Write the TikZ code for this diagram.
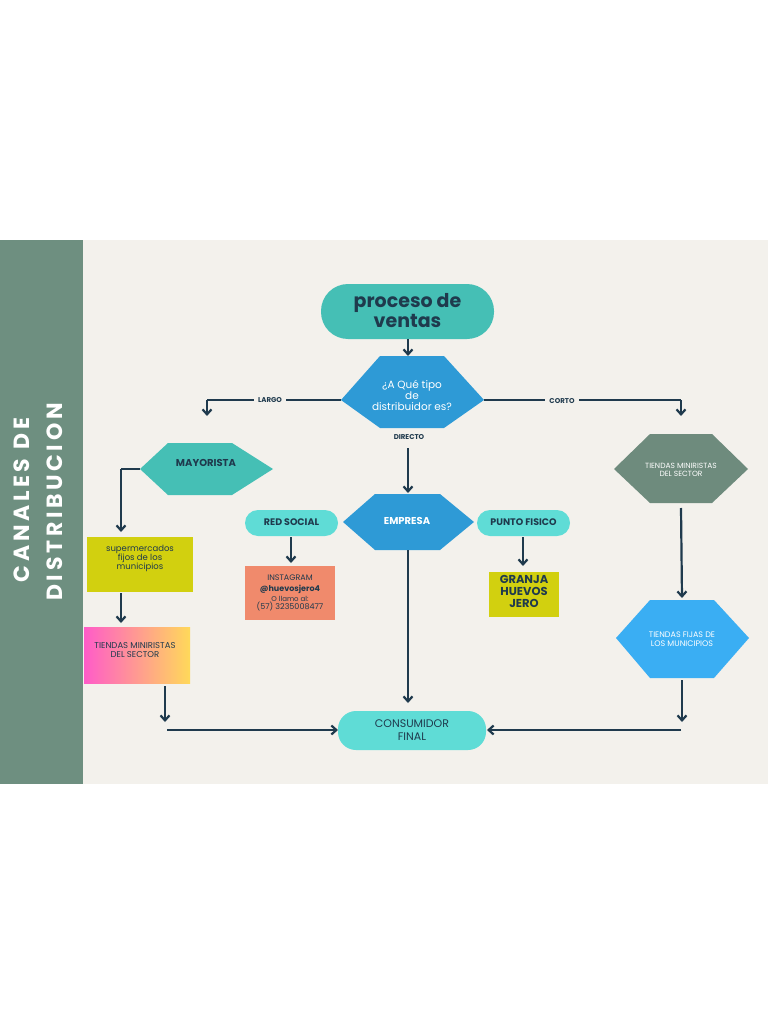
\documentclass[tikz,border=0pt]{standalone}
\usepackage{fontspec}
\setmainfont{Poppins}
\usetikzlibrary{arrows.meta}
\definecolor{panel}{HTML}{F3F1EC}
\definecolor{strip}{HTML}{6E8F80}
\definecolor{ink}{HTML}{1F3A4D}
\definecolor{tealA}{HTML}{45BFB5}
\definecolor{tealB}{HTML}{5FDCD6}
\definecolor{blueA}{HTML}{2E9AD6}
\definecolor{blueB}{HTML}{3AAEF3}
\definecolor{grayg}{HTML}{6E8B7D}
\definecolor{olive}{HTML}{D2D00F}
\definecolor{salmon}{HTML}{F08A6C}
\definecolor{pinkg}{HTML}{FF5CC8}
\definecolor{yelg}{HTML}{FFD95A}
\tikzset{
 conn/.style={draw=ink,line width=2.2pt,-{Straight Barb[length=5pt,width=9pt]}},
 seg/.style={draw=ink,line width=2.2pt},
 txt/.style={text=ink,align=center,inner sep=0pt},
 lbl/.style={text=ink,font=\fontsize{7}{8}\selectfont\bfseries,fill=panel,inner xsep=4pt,inner ysep=1pt},
 pill/.style={rounded corners=13pt,inner sep=0pt}
}
\begin{document}
\begin{tikzpicture}[x=1pt,y=-1pt]
\useasboundingbox (0,0) rectangle (768,1024);
\fill[white] (0,0) rectangle (768,1024);
\fill[panel] (0,240) rectangle (768,784);
\fill[strip] (0,240) rectangle (83,784);
\node[rotate=90,text=white,font=\fontsize{22}{24}\selectfont\bfseries] (t1) at (22,500) {C\,A\,N\,A\,L\,E\,S\ \ D\,E};
\node[rotate=90,text=white,font=\fontsize{22}{24}\selectfont\bfseries] (t2) at (55,502) {D\,I\,S\,T\,R\,I\,B\,U\,C\,I\,O\,N};
% proceso de ventas
\fill[tealA,rounded corners=27pt] (321,284) rectangle (494,339);
\node[txt,font=\fontsize{19}{20}\selectfont\bfseries] (pv) at (407.5,311) {proceso de\\ventas};
% question hexagon
\fill[blueA] (341,400) -- (380,356) -- (444,356) -- (484,400) -- (444,428) -- (380,428) -- cycle;
\node[txt,text=white,font=\fontsize{10.5}{11}\selectfont] (q) at (412,395) {¿A Qué tipo\\de\\distribuidor es?};
\coordinate (qt) at (408,356); \coordinate (ql) at (341,400); \coordinate (qr) at (484,400);
\coordinate (pvb) at (408,339);
\draw[conn] (pvb) -- (qt);
\coordinate (lc) at (207,400); \coordinate (la) at (207,416);
\coordinate (rc) at (681,400); \coordinate (ra) at (681,416);
\draw[seg] (ql) -- (lc); \draw[conn] (lc) -- (la);
\draw[seg] (qr) -- (rc); \draw[conn] (rc) -- (ra);
\node[lbl] (largo) at (270,400) {LARGO};
\node[lbl] (corto) at (562,401) {CORTO};
\node[lbl] (dir) at (409,437) {DIRECTO};
% MAYORISTA
\fill[tealA] (140,469) -- (168,443) -- (232,443) -- (273,469) -- (232,495) -- (168,495) -- cycle;
\node[txt,font=\fontsize{10}{11}\selectfont\bfseries] (may) at (206,463) {MAYORISTA};
\coordinate (mayl) at (140,469); \coordinate (mc) at (121,469); \coordinate (ma) at (121,532);
\draw[seg] (mayl) -- (mc); \draw[conn] (mc) -- (ma);
% supermercados
\fill[olive] (87,537) rectangle (193,592);
\node[txt,font=\fontsize{8.5}{9}\selectfont] (sup) at (140,558) {supermercados\\fijos de los\\municipios};
\coordinate (supb) at (121,593); \coordinate (tmt) at (121,623);
\draw[conn] (supb) -- (tmt);
% tiendas gradient
\shade[left color=pinkg,right color=yelg] (84,627) rectangle (190,683);
\node[txt,font=\fontsize{8.5}{9}\selectfont] (tm) at (135,650) {TIENDAS MINIRISTAS\\DEL SECTOR};
\coordinate (tmb) at (165,686); \coordinate (tma) at (165,722);
\draw[conn] (tmb) -- (tma);
\coordinate (bl) at (167,730);
% EMPRESA
\fill[blueA] (343,522) -- (375,494) -- (440,494) -- (474,522) -- (440,550) -- (375,550) -- cycle;
\node[txt,text=white,font=\fontsize{10}{11}\selectfont\bfseries] (emp) at (407,521) {EMPRESA};
\draw[conn] (408,448) -- (408,493);
% RED SOCIAL
\fill[tealB,pill] (245,510) rectangle (338,536);
\node[txt,font=\fontsize{9.5}{10}\selectfont\bfseries] (rs) at (291.5,522) {RED SOCIAL};
\draw[conn] (291,537) -- (291,563);
\fill[salmon] (245,566) rectangle (335,620);
\node[txt,font=\fontsize{8}{9.5}\selectfont] (ig) at (290,593) {INSTAGRAM\\[1pt]\bfseries @huevosjero4\\[1pt]{\fontsize{7}{7}\selectfont O llamo al:}\\[-2pt](57) 3235008477};
% PUNTO FISICO
\fill[tealB,pill] (477,510) rectangle (570,536);
\node[txt,font=\fontsize{9.5}{10}\selectfont\bfseries] (pf) at (523.5,522) {PUNTO FISICO};
\draw[conn] (523,537) -- (523,566);
\fill[olive] (489,572) rectangle (559,617);
\node[txt,font=\fontsize{11.5}{12}\selectfont\bfseries] (gr) at (524,591) {GRANJA\\HUEVOS\\JERO};
% CONSUMIDOR FINAL
\fill[tealB,rounded corners=18pt] (338,711) rectangle (486,750);
\node[txt,font=\fontsize{11}{13}\selectfont] (cf) at (412,730) {CONSUMIDOR\\FINAL};
\draw[conn] (408,550) -- (408,703);
\draw[conn] (bl) -- (338,730);
% right side
\fill[grayg] (614,469) -- (650,434) -- (712,434) -- (748,469) -- (712,503) -- (650,503) -- cycle;
\node[txt,text=white,font=\fontsize{7.5}{8.5}\selectfont] (tms) at (681,470) {TIENDAS MINIRISTAS\\DEL SECTOR};
\draw[conn] (681,508) -- (682,598);
\fill[blueB] (616,638) -- (650,600) -- (714,600) -- (749,638) -- (714,678) -- (650,678) -- cycle;
\node[txt,text=white,font=\fontsize{8}{9}\selectfont] (tf) at (682,639) {TIENDAS FIJAS DE\\LOS MUNICIPIOS};
\draw[conn] (682,680) -- (682,722);
\coordinate (br) at (681,730);
\draw[conn] (br) -- (487,730);
\end{tikzpicture}
\end{document}
